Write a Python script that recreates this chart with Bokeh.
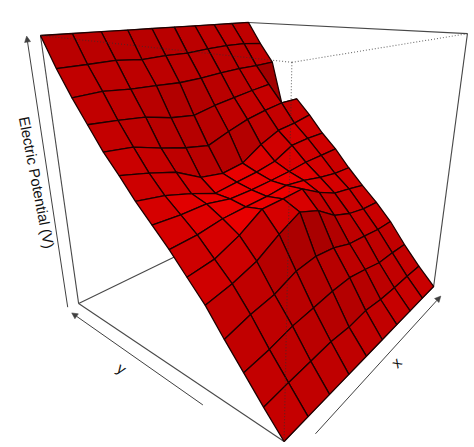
import numpy as np
from bokeh.plotting import figure
from bokeh.models import Range1d, ColumnDataSource, Arrow, NormalHead
from bokeh.core.properties import value
from bokeh.embed import file_html
from bokeh.resources import INLINE

# grid, normalised to the box
x_grid = [i/9 for i in range(10)]
y_grid = [j/14 for j in range(15)]

# surface heights (normalised potential), one list per y row
z00 = [1.0, 1.0, 1.0, 1.0, 1.0, 1.0, 1.0, 1.0, 1.0, 1.0]
z01 = [0.902, 0.904, 0.907, 0.899, 0.904, 0.904, 0.912, 0.917, 0.917, 0.911]
z02 = [0.818, 0.823, 0.815, 0.813, 0.809, 0.813, 0.821, 0.826, 0.828, 0.832]
z03 = [0.743, 0.736, 0.727, 0.705, 0.694, 0.714, 0.728, 0.742, 0.753, 0.609]
z04 = [0.668, 0.659, 0.63, 0.606, 0.589, 0.621, 0.649, 0.667, 0.681, 0.682]
z05 = [0.608, 0.586, 0.559, 0.51, 0.495, 0.507, 0.557, 0.593, 0.603, 0.62]
z06 = [0.543, 0.527, 0.5, 0.467, 0.477, 0.486, 0.502, 0.542, 0.548, 0.549]
z07 = [0.486, 0.481, 0.482, 0.465, 0.465, 0.469, 0.475, 0.485, 0.487, 0.49]
z08 = [0.43, 0.435, 0.45, 0.455, 0.458, 0.467, 0.455, 0.437, 0.423, 0.419]
z09 = [0.366, 0.377, 0.414, 0.467, 0.468, 0.471, 0.424, 0.387, 0.372, 0.355]
z10 = [0.303, 0.32, 0.348, 0.398, 0.439, 0.407, 0.35, 0.32, 0.303, 0.296]
z11 = [0.223, 0.245, 0.258, 0.29, 0.297, 0.284, 0.256, 0.245, 0.232, 0.228]
z12 = [0.148, 0.158, 0.176, 0.183, 0.19, 0.191, 0.174, 0.154, 0.151, 0.144]
z13 = [0.072, 0.079, 0.083, 0.088, 0.081, 0.087, 0.076, 0.072, 0.071, 0.068]
z14 = [0.0, 0.0, 0.0, 0.0, 0.0, 0.0, 0.0, 0.0, 0.0, 0.0]
Z = np.array([z00, z01, z02, z03, z04, z05, z06, z07, z08, z09, z10, z11, z12, z13, z14])

x_label, y_label, z_label = "x", "y", "Electric Potential (V)"

# perspective view of the unit box
VIEW = np.array([[262.895516, 118.83203, -45.102067, 78.134604],
                 [-2.765666, 3.273816, -274.105463, 303.056214],
                 [0.367066, -0.305406, -0.173393, 1.0]])

def proj(u, v, w):
    q = VIEW @ np.array([u, v, w, 1.0])
    return q[0]/q[2], q[1]/q[2], q[2]

def seg(a, b):
    pa, pb = proj(*a), proj(*b)
    return [pa[0], pb[0]], [pa[1], pb[1]]

W, H = 470, 443
p = figure(width=W, height=H, x_range=Range1d(0, W), y_range=Range1d(H, 0),
           output_backend="svg", toolbar_location=None, min_border=0)
p.axis.visible = False
p.grid.visible = False
p.outline_line_color = None
p.background_fill_color = "white"

BOX = "#484848"
solid = [((0,0,1),(1,0,1)), ((1,0,1),(1,1,1)), ((1,1,1),(1,1,0)), ((1,1,0),(0,1,0)),
         ((0,1,0),(0,0,0)), ((0,0,0),(0,0,1)), ((0,0,0),(1,0,0)), ((1,0,0),(1,1,0)), ((1,0,0),(1,0,1))]
for a, b in solid:
    sx, sy = seg(a, b)
    p.line(sx, sy, line_color=BOX, line_width=1.1)

xs, ys, cs, ds = [], [], [], []
for j in range(len(y_grid)-1):
    for i in range(len(x_grid)-1):
        idx = [(i, j), (i+1, j), (i+1, j+1), (i, j+1)]
        pts = [proj(x_grid[a], y_grid[c], Z[c, a]) for a, c in idx]
        xs.append([q[0] for q in pts])
        ys.append([q[1] for q in pts])
        ds.append(np.mean([q[2] for q in pts]))
        dzu = (Z[j, i+1]+Z[j+1, i+1]-Z[j, i]-Z[j+1, i])/2*9
        dzv = (Z[j+1, i]+Z[j+1, i+1]-Z[j, i]-Z[j, i+1])/2*14
        nz = 1/np.sqrt(1+dzu**2+dzv**2)
        r = int(np.clip(108+130*nz, 0, 255))
        cs.append(f"#{r:02x}0000")
order = np.argsort(ds)[::-1]
src = ColumnDataSource(dict(xs=[xs[k] for k in order], ys=[ys[k] for k in order], c=[cs[k] for k in order]))
p.patches("xs", "ys", source=src, fill_color="c", line_color="#200000", line_width=1.3)

dotted = [((0,0,1),(0,1,1)), ((0,1,1),(1,1,1)), ((0,1,1),(0,1,0))]
for a, b in dotted:
    sx, sy = seg(a, b)
    p.line(sx, sy, line_color="#303030", line_alpha=0.7, line_width=1.1, line_dash="1 2")

def arrow(a, b):
    pa, pb = proj(*a), proj(*b)
    p.add_layout(Arrow(end=NormalHead(size=6, line_color="#404040", fill_color="#404040", line_width=0.5),
                       x_start=pa[0], y_start=pa[1], x_end=pb[0], y_end=pb[1],
                       line_color="#404040", line_width=1))

arrow((0.075, 1.05, 0), (0.95, 1.05, 0))
arrow((-0.05, 0.74, 0), (-0.05, 0.035, 0))
arrow((-0.04, -0.01, 0), (-0.04, -0.01, 1))

def label(text, pos, angle, size):
    q = proj(*pos)
    p.text([q[0]], [q[1]], text=[text], angle=angle, angle_units="deg", text_align="center",
           text_baseline="middle", text_font=value("Liberation Sans"), text_font_size=size, text_color="#111111")

label(x_label, (0.48, 1.09, 0), 45, "15px")
label(y_label, (-0.11, 0.43, 0), -35, "15px")
label(z_label, (-0.083, -0.01, 0.52), -79, "14.8px")

open("out.html", "w").write(file_html(p, INLINE))
